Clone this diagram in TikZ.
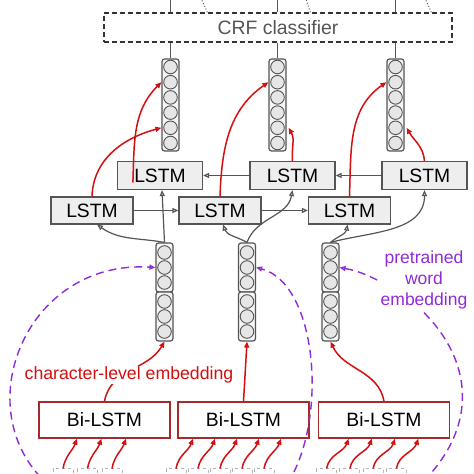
\documentclass[tikz,border=0pt]{standalone}
\usepackage{fontspec}
\setmainfont{Liberation Sans}
\usetikzlibrary{arrows.meta,calc}

\definecolor{linegray}{HTML}{555555}
\definecolor{boxgray}{HTML}{EEEEEE}
\definecolor{cellgray}{HTML}{E6E6E6}
\definecolor{arrowred}{HTML}{D40F0F}
\definecolor{bired}{HTML}{A52A2A}
\definecolor{embpurple}{HTML}{8F2BD9}

\tikzset{
  lstm/.style={draw=linegray, fill=boxgray, line width=1.2pt, minimum height=28pt, inner sep=0pt, font=\fontsize{19.3}{23}\selectfont},
  bilstm/.style={draw=bired, fill=white, line width=1.3pt, minimum width=131pt, minimum height=36pt, inner sep=0pt, font=\fontsize{19.3}{23}\selectfont},
  vecbox/.style={draw=linegray, fill=black!4, line width=1.2pt, rounded corners=2.5pt, minimum width=17pt, inner sep=0pt},
  cell/.style={draw=linegray, fill=cellgray, line width=0.9pt},
  grayarrow/.style={draw=linegray, line width=1.2pt, -{Triangle[open,length=6pt,width=5pt]}},
  redarrow/.style={draw=arrowred, line width=1.5pt, -{Triangle[open,length=6pt,width=5pt]}},
  embline/.style={draw=embpurple, line width=1.4pt, dash pattern=on 8pt off 5pt},
  embarrow/.style={embline, -{Triangle[open,length=6pt,width=5pt]}},
  charbox/.style={draw=black!30, dashed, line width=1pt, minimum width=20pt, minimum height=20pt, inner sep=0pt},
}

\begin{document}
\begin{tikzpicture}[x=1pt, y=1pt]
\useasboundingbox (0,0) rectangle (474,474);

% CRF layer
\node[draw=black!80, dash pattern=on 5pt off 3pt, line width=1.4pt, minimum width=348pt, minimum height=29pt, inner sep=0pt, text=linegray, font=\fontsize{19.4}{23}\selectfont] (crf) at (278,446.5) {CRF classifier};
\coordinate (up1) at (170.5,480);
\coordinate (up2) at (277.5,480);
\coordinate (up3) at (395.5,480);
\coordinate (dot1) at (200,478);
\coordinate (dot2) at (305,478);
\coordinate (dot3) at (424,478);
\draw[linegray, line width=1.2pt] (crf.north -| up1) -- (up1);
\draw[linegray, line width=1.2pt] (crf.north -| up2) -- (up2);
\draw[linegray, line width=1.2pt] (crf.north -| up3) -- (up3);
\draw[linegray, dotted, line width=1pt] ($(crf.north west)+(104,0)$) -- (dot1);
\draw[linegray, dotted, line width=1pt] ($(crf.north west)+(207,0)$) -- (dot2);
\draw[linegray, dotted, line width=1pt] ($(crf.north west)+(328,0)$) -- (dot3);

% Output vectors
\node[vecbox, minimum height=92pt] (T1) at (170.5,369) {};
\node[vecbox, minimum height=92pt] (T2) at (277.5,369) {};
\node[vecbox, minimum height=92pt] (T3) at (395.5,369) {};
\foreach \v in {T1,T2,T3}
  \foreach \dy in {38,22.8,7.6,-7.6,-22.8,-38}
    \draw[cell] ($(\v.center)+(0,\dy)$) circle (6.8pt);
\draw[linegray, line width=1.2pt] (T1.north) -- (T1.north |- crf.south);
\draw[linegray, line width=1.2pt] (T2.north) -- (T2.north |- crf.south);
\draw[linegray, line width=1.2pt] (T3.north) -- (T3.north |- crf.south);

% LSTM layers
\node[lstm, minimum width=85pt] (A1) at (160,298.5) {LSTM};
\node[lstm, minimum width=85pt] (A2) at (292.5,298.5) {LSTM};
\node[lstm, minimum width=85pt] (A3) at (424.5,298.5) {LSTM};
\node[lstm, minimum width=82pt, minimum height=27pt] (B1) at (92,263.5) {LSTM};
\node[lstm, minimum width=82pt, minimum height=27pt] (B2) at (220,263.5) {LSTM};
\node[lstm, minimum width=82pt, minimum height=27pt] (B3) at (349.5,263.5) {LSTM};

% Word vectors: word part on top, character part below
\node[vecbox, minimum height=49pt] (W1) at (164.5,206.5) {};
\node[vecbox, minimum height=49pt] (C1) at (164.5,157.5) {};
\node[vecbox, minimum height=49pt] (W2) at (247,206.5) {};
\node[vecbox, minimum height=49pt] (C2) at (247,157.5) {};
\node[vecbox, minimum height=49pt] (W3) at (330.5,206.5) {};
\node[vecbox, minimum height=49pt] (C3) at (330.5,157.5) {};
\foreach \v in {W1,W2,W3,C1,C2,C3}
  \foreach \dy in {15,0,-15}
    \draw[cell] ($(\v.center)+(0,\dy)$) circle (6.8pt);

% Bi-LSTM
\node[bilstm] (BL1) at (104.5,54) {Bi-LSTM};
\node[bilstm] (BL2) at (243.5,54) {Bi-LSTM};
\node[bilstm] (BL3) at (384,54) {Bi-LSTM};

% Characters
\foreach \i/\x in {1/63,2/87.5,3/112} {
  \node[charbox] (ca\i) at (\x,-5) {};
  \draw[redarrow] (ca\i.north) to[out=80,in=250] ($(ca\i.north |- BL1.south)+(14,0)$);
}
\foreach \i/\x in {1/176,2/198,3/220,4/242,5/264} {
  \node[charbox] (cb\i) at (\x,-5) {};
  \draw[redarrow] (cb\i.north) to[out=80,in=250] ($(cb\i.north |- BL2.south)+(17,0)$);
}
\foreach \i/\x in {1/326.6,2/349.9,3/373.1,4/396.4} {
  \node[charbox] (cc\i) at (\x,-5) {};
  \draw[redarrow] (cc\i.north) to[out=80,in=250] ($(cc\i.north |- BL3.south)+(22,0)$);
}

% Gray connectors
\draw[grayarrow] (B1.east) -- (B2.west);
\draw[grayarrow] (B2.east) -- (B3.west);
\draw[grayarrow] (A3.west) -- (A2.east);
\draw[grayarrow] (A2.west) -- (A1.east);
\draw[grayarrow] (W1.north) to[out=170,in=-35] ($(B1.south)+(5,0)$);
\draw[grayarrow] (W1.north) -- ($(A1.south)+(2,0)$);
\draw[grayarrow] (W2.north) to[out=150,in=-70] ($(B2.south)+(3,0)$);
\draw[grayarrow] (W2.north) to[out=70,in=-100] (A2.south);
\draw[grayarrow] (W3.north) to[out=40,in=-100] ($(B3.south)+(-2,0)$);
\draw[grayarrow] (W3.north) to[out=15,in=-90] (A3.south);

% Red connectors to output
\draw[redarrow] (B1.north) to[out=88,in=195] ($(T1.west)+(0,-22.8)$);
\draw[redarrow] ($(A1.west)+(16,-7)$) to[out=88,in=225] ($(T1.west)+(0,22.8)$);
\draw[redarrow] (B2.north) to[out=88,in=215] ($(T2.west)+(0,22.8)$);
\draw[redarrow] (A2.north) to[out=95,in=-60] ($(T2.east)+(2,-22.8)$);
\draw[redarrow] (B3.north) to[out=88,in=215] ($(T3.west)+(0,22.8)$);
\draw[redarrow] (A3.north) to[out=95,in=-60] ($(T3.east)+(2,-22.8)$);

% Character-level embedding
\draw[redarrow] (BL1.north) to[out=80,in=240] (C1.south);
\node[fill=white, text=arrowred, inner sep=1pt, font=\fontsize{17.7}{21}\selectfont] (cle) at (129,99) {character-level embedding};
\draw[redarrow] (BL2.north) -- (C2.south);
\draw[redarrow] (BL3.north) to[out=100,in=-65] (C3.south);

% Pretrained word embedding
\coordinate (loop1) at (60,-20);
\coordinate (loop2) at (280,-20);
\coordinate (loop3) at (410,-20);
\node[text=embpurple, align=center, font=\fontsize{17.5}{21}\selectfont] (pwe) at (424,194) {pretrained\\word\\embedding};
\draw[embarrow] (loop1) .. controls (-40,50) and (20,215) .. (W1.west);
\draw[embarrow] (loop2) .. controls (330,40) and (320,190) .. (W2.east);
\draw[embarrow] (pwe.west) to[bend right=8] (W3.east);
\draw[embline] (pwe.south) .. controls (475,110) and (480,40) .. (loop3);
\end{tikzpicture}
\end{document}
